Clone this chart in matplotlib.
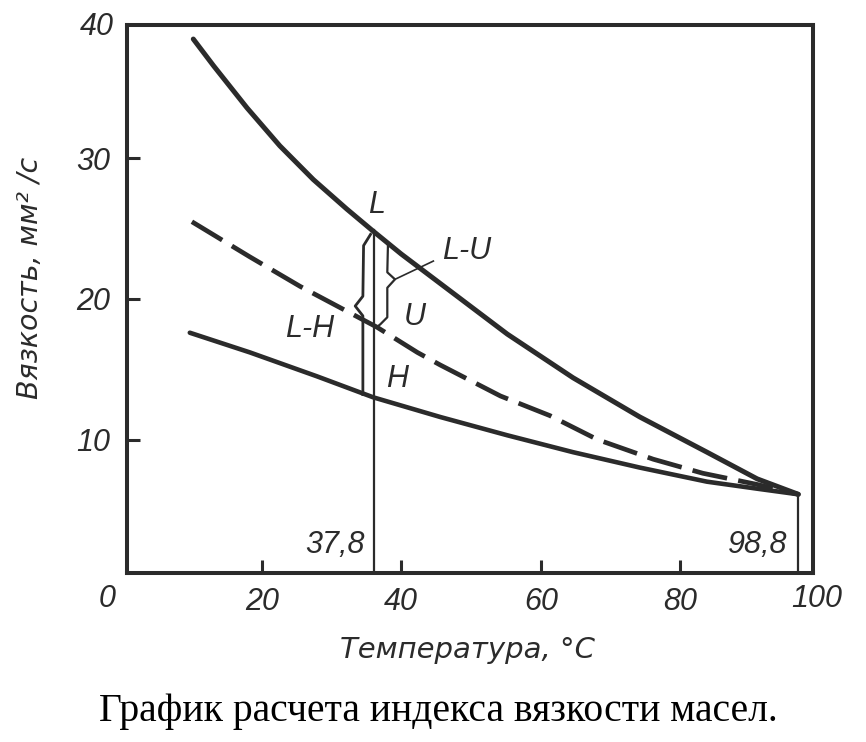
import matplotlib
matplotlib.use("Agg")
import matplotlib.pyplot as plt

# Кривая L (масло с индексом 0)
l_t = [10.2, 13.1, 17.9, 22.6, 27.4, 32.2, 35.8, 40.0, 45.6, 55.2, 64.6, 74.2, 83.8, 91.0, 96.9]
l_v = [38.5, 36.6, 33.6, 30.9, 28.5, 26.4, 24.9, 23.2, 21.1, 17.5, 14.4, 11.6, 9.1, 7.2, 6.1]

# Кривая U (испытуемое масло), штриховая
u_t = [10.0, 18.3, 25.5, 32.7, 36.5, 42.3, 45.6, 54.2, 61.3, 68.1, 76.1, 83.2, 91.0, 96.9]
u_v = [25.5, 23.0, 20.9, 19.0, 18.0, 16.2, 15.3, 13.1, 11.7, 10.0, 8.6, 7.6, 6.8, 6.1]

# Кривая H (масло с индексом 100)
h_t = [9.7, 18.3, 27.9, 36.0, 45.6, 55.2, 64.6, 74.2, 83.8, 91.0, 96.9]
h_v = [17.6, 16.2, 14.5, 13.0, 11.6, 10.3, 9.1, 8.0, 7.0, 6.5, 6.1]

# Вертикали (как нарисованы на графике)
t_low, t_low_label = 36.1, "37,8"
t_high, t_high_label = 96.9, "98,8"
v_end = 6.1

# Фигурные скобки L-H и L-U
lh_t = [35.6, 34.6, 34.5, 33.4, 34.5, 34.5]
lh_v = [24.6, 23.8, 20.2, 19.5, 18.8, 13.2]
lu_t = [38.1, 38.0, 39.1, 38.0, 38.0, 37.0, 36.5]
lu_v = [24.0, 21.9, 21.4, 20.8, 18.7, 18.2, 18.0]
leader_t = [39.1, 44.6]
leader_v = [21.4, 22.7]

xticks = [20, 40, 60, 80]
yticks = [10, 20, 30]

W, H = 866, 742
fig = plt.figure(figsize=(W / 100, H / 100), dpi=100)
ax = fig.add_axes([127 / W, 1 - 573 / H, 686 / W, 548 / H])
ax.set_xlim(0.7, 99.0)
ax.set_ylim(0.5, 39.5)

ink = "#2b2b2b"
tick_font = dict(family="Liberation Sans", style="italic", size=22, color=ink)

ax.plot(l_t, l_v, color=ink, lw=3.6, solid_capstyle="round", solid_joinstyle="round")
ax.plot(u_t, u_v, color=ink, lw=3.4, dashes=(7.5, 2.4))
ax.plot(h_t, h_v, color=ink, lw=3.3, solid_capstyle="round", solid_joinstyle="round")

ax.plot([t_low, t_low], [0.5, l_v[6]], color=ink, lw=1.6)
ax.plot([t_high, t_high], [0.5, v_end], color=ink, lw=1.6)
ax.plot(lh_t, lh_v, color=ink, lw=2.0)
ax.plot(lu_t, lu_v, color=ink, lw=1.6)
ax.plot(leader_t, leader_v, color=ink, lw=1.2)

for s in ax.spines.values():
    s.set_linewidth(2.9)
    s.set_color(ink)

ax.set_xticks(xticks)
ax.set_yticks(yticks)
ax.set_xticklabels([str(t) for t in xticks], fontdict=tick_font)
ax.set_yticklabels([str(t) for t in yticks], fontdict=tick_font)
ax.tick_params(direction="in", length=9.5, width=2.2, color=ink, pad=10)
ax.tick_params(axis="y", pad=12)

# подписи на краях осей
fig.text(107 / W, 1 - 599 / H, "0", ha="center", va="center", **tick_font)
fig.text(817 / W, 1 - 599 / H, "100", ha="center", va="center", **tick_font)
fig.text(97 / W, 1 - 27 / H, "40", ha="center", va="center", **tick_font)

lab = dict(family="Liberation Sans", style="italic", size=22, color=ink)
ax.text(36.5, 26.7, "L", ha="center", va="center", **lab)
ax.text(49.4, 23.4, "L-U", ha="center", va="center", **lab)
ax.text(42.0, 18.75, "U", ha="center", va="center", **lab)
ax.text(26.8, 17.9, "L-H", ha="center", va="center", **lab)
ax.text(39.4, 14.3, "H", ha="center", va="center", **lab)
ax.text(34.8, 2.5, t_low_label, ha="right", va="center", **lab)
ax.text(95.3, 2.5, t_high_label, ha="right", va="center", **lab)

fig.text(467 / W, 1 - 650 / H, "Температура, °C", ha="center", va="center",
         family="DejaVu Sans", style="italic", size=21, color=ink)
fig.text(30 / W, 1 - 278 / H, "Вязкость, мм² /с", ha="center", va="center",
         rotation=90, family="DejaVu Sans", style="italic", size=20.5, color=ink)
fig.text(438 / W, 1 - 712 / H, "График расчета индекса вязкости масел.",
         ha="center", va="center", family="Liberation Serif", size=28.5, color="black")

fig.savefig("out.png", dpi=100)
